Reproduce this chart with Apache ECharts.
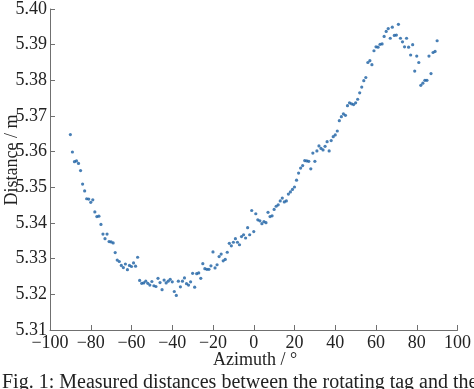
<!DOCTYPE html>
<html>
<head>
<meta charset="utf-8">
<script src="https://cdn.jsdelivr.net/npm/echarts@6/dist/echarts.min.js"></script>
<style>
html,body{margin:0;padding:0;background:#fff;}
#c{width:474px;height:389px;}
</style>
</head>
<body>
<div id="c"></div>
<script>
var azimuth = [
-90,-89,-88,-87,-86,-85,-84,-83,-82,-81,-80,-79,-78,-77,-76,-75,-74,-73,-72,-71,
-70,-69,-68,-67,-66,-65,-64,-63,-62,-61,-60,-59,-58,-57,-56,-55,-54,-53,-52,-51,
-50,-49,-48,-47,-46,-45,-44,-43,-42,-41,-40,-39,-38,-37,-36,-35,-34,-33,-32,-31,
-30,-29,-28,-27,-26,-25,-24,-23,-22,-21,-20,-19,-18,-17,-16,-15,-14,-13,-12,-11,
-10,-9,-8,-7,-6,-5,-4,-3,-2,-1,0,1,2,3,4,5,6,7,8,9,
10,11,12,13,14,15,16,17,18,19,20,21,22,23,24,25,26,27,28,29,
30,31,32,33,34,35,36,37,38,39,40,41,42,43,44,45,46,47,48,49,
50,51,52,53,54,55,56,57,58,59,60,61,62,63,64,65,66,67,68,69,
70,71,72,73,74,75,76,77,78,79,80,81,82,83,84,85,86,87,88,89,90
];
var distance = [
5.3648,5.3599,5.3572,5.3574,5.3567,5.3547,5.3509,5.3490,5.3468,5.3467,
5.3458,5.3465,5.3431,5.3418,5.3419,5.3396,5.3369,5.3356,5.3369,5.3348,
5.3347,5.3344,5.3317,5.3296,5.3292,5.3281,5.3275,5.3285,5.3269,5.3281,
5.3278,5.3288,5.3279,5.3304,5.3239,5.3231,
5.3232,5.3237,5.3231,5.3226,5.3236,5.3224,5.3222,5.3245,5.3233,5.3213,
5.3240,5.3232,5.3237,5.3242,5.3235,5.3208,5.3197,5.3237,5.3221,5.3237,
5.3246,5.3230,5.3226,5.3235,5.3259,5.3220,5.3258,5.3260,5.3245,5.3286,
5.3272,5.3270,5.3270,5.3280,5.3319,5.3274,5.3283,
5.3306,5.3313,5.3294,5.3298,5.3318,5.3343,5.3336,5.3346,5.3356,5.3346,
5.3339,5.3362,5.3367,5.3358,5.3387,5.3367,5.3435,5.3376,5.3426,5.3409,
5.3406,5.3398,5.3404,5.3401,5.3430,5.3418,5.3420,5.3438,5.3447,5.3451,
5.3462,5.3470,5.3459,5.3462,5.3481,5.3487,5.3494,5.3501,5.3520,
5.3540,5.3554,5.3561,5.3575,5.3574,5.3573,5.3552,5.3596,5.3573,5.3602,
5.3616,5.3609,5.3605,5.3615,5.3628,5.3602,5.3631,5.3642,5.3647,5.3658,
5.3687,5.3698,5.3706,5.3702,5.3729,5.3737,5.3734,5.3732,5.3737,5.3747,
5.3765,5.3781,5.3799,5.3808,
5.3850,5.3855,5.3844,5.3883,5.3894,5.3893,5.3901,5.3902,5.3923,5.3937,
5.3945,5.3918,5.3949,5.3926,5.3927,5.3957,5.3918,5.3908,5.3894,5.3918,
5.3893,5.3871,5.3900,5.3826,5.3868,5.3850,5.3786,5.3792,5.3800,5.3800,
5.3868,5.3819,5.3878,5.3881,5.3911
];
var xTicks = [-100,-80,-60,-40,-20,0,20,40,60,80,100];
var yTicks = [5.31,5.32,5.33,5.34,5.35,5.36,5.37,5.38,5.39,5.40];
var xLabel = 'Azimuth / \u00B0';
var yLabel = 'Distance / m';
var caption = 'Fig. 1: Measured distances between the rotating tag and the';

var points = azimuth.map(function(a, i){ return [a, distance[i]]; });
var font = 'Liberation Serif';
var chart = echarts.init(document.getElementById('c'), null, {renderer:'canvas'});
chart.setOption({
  animation:false,
  backgroundColor:'#fff',
  grid:{left:50, right:13, top:6, bottom:59, containLabel:false},
  xAxis:{
    type:'value', min:xTicks[0], max:xTicks[xTicks.length-1], interval:20,
    axisLine:{show:true, onZero:false, lineStyle:{color:'#707070', width:1}},
    axisTick:{show:true, inside:true, length:5, lineStyle:{color:'#707070'}},
    splitLine:{show:false},
    axisLabel:{fontFamily:font, fontSize:18, color:'#222', margin:4,
      formatter:function(v){ return v<0 ? '\u2212'+Math.abs(v) : String(v); }}
  },
  yAxis:{
    type:'value', min:yTicks[0], max:yTicks[yTicks.length-1], interval:0.01,
    axisLine:{show:true, onZero:false, lineStyle:{color:'#707070', width:1}},
    axisTick:{show:true, inside:true, length:5, lineStyle:{color:'#707070'}},
    splitLine:{show:false},
    axisLabel:{fontFamily:font, fontSize:18, color:'#222', margin:3,
      formatter:function(v){ return v.toFixed(2); }}
  },
  graphic:[
    {type:'text', x:255, y:351, style:{text:xLabel, font:'18px "Liberation Serif"', fill:'#222', textAlign:'center', textVerticalAlign:'top'}},
    {type:'text', x:12, y:160, rotation:Math.PI/2,
      style:{text:yLabel, font:'18px "Liberation Serif"', fill:'#222', textAlign:'center', textVerticalAlign:'middle'}},
    {type:'text', x:2, y:373, style:{text:caption, font:'20px "Liberation Serif"', fill:'#222', textVerticalAlign:'top'}}
  ],
  series:[{
    type:'scatter', data:points, symbol:'circle', symbolSize:3.2,
    itemStyle:{color:'#1a5fa3'}
  }]
});
</script>
</body>
</html>
